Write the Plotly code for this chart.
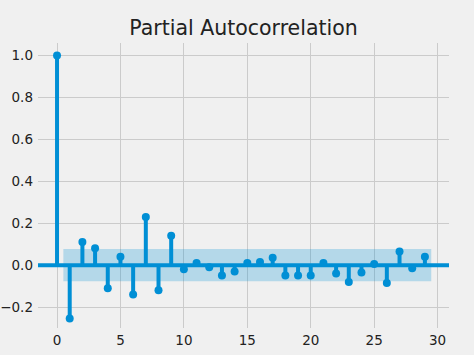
import plotly.graph_objects as go

lags = list(range(30))
pacf = [1.0, -0.255, 0.11, 0.08, -0.11, 0.04, -0.14, 0.23, -0.12, 0.14,
        -0.02, 0.01, -0.01, -0.05, -0.03, 0.01, 0.015, 0.035, -0.05, -0.05,
        -0.05, 0.01, -0.04, -0.08, -0.035, 0.005, -0.085, 0.065, -0.015, 0.04]
conf = 0.077
title = "Partial Autocorrelation"
xticks = [0, 5, 10, 15, 20, 25, 30]
yticks = [-0.2, 0.0, 0.2, 0.4, 0.6, 0.8, 1.0]

blue = "#008fd5"
bg = "#f0f0f0"

fig = go.Figure()

# confidence band
band_x = [lags[1] - 0.5] + lags[2:-1] + [lags[-1] + 0.5]
fig.add_trace(go.Scatter(x=band_x, y=[-conf] * len(band_x), mode="lines",
                         line=dict(width=0), showlegend=False, hoverinfo="skip"))
fig.add_trace(go.Scatter(x=band_x, y=[conf] * len(band_x), mode="lines",
                         line=dict(width=0), fill="tonexty",
                         fillcolor="rgba(0,143,213,0.25)", showlegend=False,
                         hoverinfo="skip"))

# stems
sx, sy = [], []
for l, v in zip(lags, pacf):
    sx += [l, l, None]
    sy += [0, v, None]
fig.add_trace(go.Scatter(x=sx, y=sy, mode="lines", line=dict(color=blue, width=4),
                         showlegend=False))

# zero line
fig.add_shape(type="line", xref="paper", yref="y", x0=0, x1=1, y0=0, y1=0,
              line=dict(color=blue, width=4), layer="above")

# markers
fig.add_trace(go.Scatter(x=lags, y=pacf, mode="markers",
                         marker=dict(color=blue, size=8), showlegend=False))

fig.update_layout(
    width=474, height=355,
    margin=dict(l=38, r=25, t=43, b=27, autoexpand=False),
    paper_bgcolor=bg, plot_bgcolor=bg,
    font=dict(family="DejaVu Sans", color="#222222", size=13.5),
    title=dict(text=title, x=(38 + 0.5 * 411) / 474, xanchor="center",
               y=1 - 28 / 355, yanchor="middle",
               font=dict(size=20.5, color="#222222")),
    xaxis=dict(range=[-1.5, 30.9], tickvals=xticks, showgrid=True,
               gridcolor="#cbcbcb", gridwidth=1, zeroline=False,
               showline=False, ticks="", ticklabelstandoff=2, automargin=False),
    yaxis=dict(range=[-0.300, 1.060], tickvals=yticks,
               ticktext=[f"{t:.1f}".replace("-", "\u2212") for t in yticks],
               showgrid=True, gridcolor="#cbcbcb", gridwidth=1, zeroline=False,
               showline=False, ticks="", ticklabelstandoff=4, automargin=False),
)

fig.write_html("out.html",
               config={"displayModeBar": False},
               post_script="document.body.style.margin='0';"
                           "document.body.style.background='#f0f0f0';")
